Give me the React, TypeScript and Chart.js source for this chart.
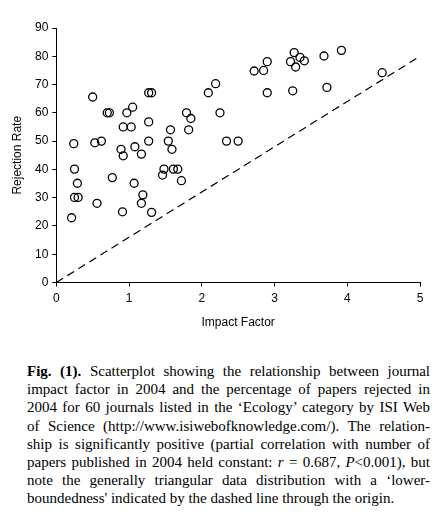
import React, { useEffect, useRef } from "react";
import { Chart, registerables } from "chart.js";

Chart.register(...registerables);

// impact factor (x) and rejection rate (y) for the 60 journals
const impactFactor = [
  0.24, 0.5, 0.53, 0.62, 0.7, 0.73, 0.89, 0.92, 0.92, 0.97,
  1.03, 1.05, 1.08, 1.17, 1.27, 1.31, 1.27, 1.27, 1.54, 1.57,
  1.59, 1.79, 1.85, 1.82, 2.09, 2.19, 2.25, 2.34, 0.25, 0.29,
  0.25, 0.3, 0.21, 0.56, 0.77, 0.91, 1.07, 1.19, 1.17, 1.31,
  1.46, 1.48, 1.61, 1.67, 1.72, 2.5, 2.72, 2.85, 2.9, 2.9,
  3.27, 3.22, 3.35, 3.41, 3.29, 3.25, 3.68, 3.92, 3.72, 4.48,
];
const rejectionRate = [
  49.1, 65.6, 49.4, 50, 60, 60, 47.1, 55, 44.8, 60,
  55, 62, 48, 45.4, 67.1, 67.1, 56.8, 50, 50, 54,
  47.1, 60, 58, 54, 67.1, 70.3, 60, 50, 40.1, 35.1,
  30.1, 30.1, 22.9, 28, 37.1, 25, 35.1, 31, 28, 24.8,
  38, 40.1, 40.1, 40.1, 36, 50, 74.8, 75, 78.1, 67.1,
  81.3, 78.1, 79.6, 78.4, 76.2, 67.8, 80.1, 82.1, 69, 74.2,
];

// dashed lower bound through the origin
const boundX = [0, 5];
const boundY = [0, 80];

const xTicks = [0, 1, 2, 3, 4, 5];
const yTicks = [0, 10, 20, 30, 40, 50, 60, 70, 80, 90];

const captionLines: React.ReactNode[] = [
  <><b>Fig. (1).</b> Scatterplot showing the relationship between journal</>,
  <>impact factor in 2004 and the percentage of papers rejected in</>,
  <>2004 for 60 journals listed in the ‘Ecology’ category by ISI Web</>,
  <>of Science (http://www.isiwebofknowledge.com/). The relation-</>,
  <>ship is significantly positive (partial correlation with number of</>,
  <>papers published in 2004 held constant: <i>r</i> = 0.687, <i>P</i>&lt;0.001), but</>,
  <>note the generally triangular data distribution with a ‘lower-</>,
  <>boundedness' indicated by the dashed line through the origin.</>,
];

const ScatterChart: React.FC = () => {
  const canvasRef = useRef<HTMLCanvasElement | null>(null);

  useEffect(() => {
    if (!canvasRef.current) return;
    const ctx = canvasRef.current.getContext("2d");
    if (!ctx) return;

    const font = { family: "'Liberation Sans', Arial, sans-serif", size: 12 };

    const chart = new Chart(ctx, {
      type: "scatter",
      data: {
        datasets: [
          {
            type: "line",
            data: boundX.map((x, i) => ({ x, y: boundY[i] })),
            borderColor: "#000",
            borderWidth: 1.2,
            borderDash: [8, 5],
            pointRadius: 0,
            fill: false,
          },
          {
            data: impactFactor.map((x, i) => ({ x, y: rejectionRate[i] })),
            pointRadius: 4,
            pointBorderWidth: 1.3,
            pointBorderColor: "#000",
            pointBackgroundColor: "rgba(0,0,0,0)",
          },
        ],
      },
      options: {
        animation: false,
        responsive: true,
        maintainAspectRatio: false,
        layout: { padding: { left: 0, right: 26, top: 28, bottom: 0 } },
        plugins: { legend: { display: false }, tooltip: { enabled: false } },
        scales: {
          x: {
            type: "linear",
            min: 0,
            max: 5,
            afterFit: (s: any) => { s.height = 57.5; },
            afterBuildTicks: (s: any) => { s.ticks = xTicks.map((v) => ({ value: v })); },
            ticks: { color: "#000", font, padding: 5 },
            grid: { drawOnChartArea: false, drawTicks: true, tickLength: 4, color: "#000" },
            border: { display: true, color: "#000", width: 1 },
            title: { display: true, text: "Impact Factor", color: "#000", font, padding: { top: 0, bottom: 10 } },
          },
          y: {
            type: "linear",
            min: 0,
            max: 90,
            afterFit: (s: any) => { s.width = 56.3; },
            afterBuildTicks: (s: any) => { s.ticks = yTicks.map((v) => ({ value: v })); },
            ticks: { color: "#000", font, padding: 4 },
            grid: { drawOnChartArea: false, drawTicks: true, tickLength: 4, color: "#000" },
            border: { display: true, color: "#000", width: 1 },
            title: { display: true, text: "Rejection Rate", color: "#000", font, padding: { top: 10, bottom: 0 } },
          },
        },
      },
    });

    return () => {
      chart.destroy();
    };
  }, []);

  return (
    <div style={{ position: "absolute", left: 0, top: 0, width: 446, height: 340 }}>
      <canvas ref={canvasRef}></canvas>
    </div>
  );
};

export default function App() {
  return (
    <div style={{ position: "absolute", left: 0, top: 0, width: 446, height: 517, background: "#fff" }}>
      <ScatterChart />
      <div
        style={{
          position: "absolute",
          left: 27,
          top: 362,
          width: 403,
          fontFamily: "'Liberation Serif', 'Times New Roman', serif",
          fontSize: 15,
          lineHeight: "18.2px",
          color: "#000",
        }}
      >
        {captionLines.map((line, i) => (
          <div
            key={i}
            style={{
              whiteSpace: "nowrap",
              textAlign: "justify",
              textAlignLast: i === captionLines.length - 1 ? "left" : "justify",
            }}
          >
            {line}
          </div>
        ))}
      </div>
    </div>
  );
}
